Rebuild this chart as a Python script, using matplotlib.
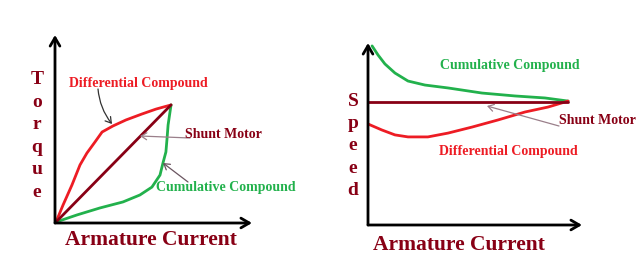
import matplotlib
matplotlib.use("Agg")
import matplotlib.pyplot as plt

# ---------------- data ----------------
# Left panel: torque vs armature current (arbitrary units)
tq_diff_x = [0.05, 0.41, 0.86, 1.27, 1.62, 2.03, 2.39, 2.94, 3.60, 4.42, 5.13, 5.89]
tq_diff_y = [0.05, 0.96, 2.02, 3.09, 3.72, 4.31, 4.84, 5.16, 5.48, 5.80, 6.06, 6.28]
tq_shunt_x = [0.05, 5.89]
tq_shunt_y = [0.05, 6.28]
tq_cum_x = [0.05, 1.12, 2.28, 3.45, 4.31, 4.92, 5.33, 5.48, 5.63, 5.69, 5.74, 5.89]
tq_cum_y = [0.05, 0.43, 0.80, 1.12, 1.49, 1.91, 2.55, 3.19, 3.78, 4.52, 5.21, 6.28]

# Right panel: speed vs armature current
sp_cum_x = [0.19, 0.47, 0.79, 1.26, 1.87, 2.66, 3.74, 5.33, 6.87, 8.27, 9.35]
sp_cum_y = [9.84, 9.34, 8.85, 8.35, 7.91, 7.69, 7.53, 7.25, 7.09, 6.98, 6.81]
sp_shunt_x = [0.0, 9.35]
sp_shunt_y = [6.74, 6.74]
sp_diff_x = [0.0, 0.65, 1.26, 1.87, 2.80, 3.74, 4.86, 6.07, 7.34, 8.41, 9.35]
sp_diff_y = [5.55, 5.22, 4.95, 4.84, 4.84, 5.05, 5.38, 5.77, 6.21, 6.48, 6.81]

xlabel = "Armature Current"
left_ylabel = "Torque"
right_ylabel = "Speed"
lbl_diff = "Differential Compound"
lbl_cum = "Cumulative Compound"
lbl_shunt = "Shunt Motor"

# ---------------- style ----------------
RED = "#ED1C24"
GREEN = "#22B14C"
MAROON = "#880015"
PTR = "#9a7f8a"
W, H = 640, 268
FONT = "Liberation Serif"

fig = plt.figure(figsize=(6.4, 2.68), dpi=100)
fig.patch.set_facecolor("white")


def fp(x, y):
    return (x / W, 1 - y / H)


def make_axes(x0, y0, x1, y1):
    ax = fig.add_axes([x0 / W, 1 - y0 / H, (x1 - x0) / W, (y0 - y1) / H])
    ax.set_xlim(0, 10)
    ax.set_ylim(0, 10)
    ax.axis("off")
    arrow = dict(arrowstyle="->,head_length=0.6,head_width=0.35", color="black",
                 lw=2.0, shrinkA=0, shrinkB=0)
    ax.annotate("", xy=(0, 1), xytext=(0, 0), xycoords="axes fraction",
                arrowprops=arrow, annotation_clip=False)
    ax.annotate("", xy=(1, 0), xytext=(0, 0), xycoords="axes fraction",
                arrowprops=arrow, annotation_clip=False)
    return ax


def pointer(start, end, color, rad=0.0):
    fig.add_artist(matplotlib.patches.FancyArrowPatch(
        fp(*start), fp(*end), transform=fig.transFigure,
        arrowstyle="->,head_length=4,head_width=2.5", color=color, lw=0.9,
        connectionstyle=f"arc3,rad={rad}", shrinkA=0, shrinkB=0))


def vtext(x, y, s):
    fig.text(*fp(x, y), "\n".join(s), ha="center", va="center",
             fontsize=14, fontweight="bold", color=MAROON, family=FONT,
             linespacing=1.42)


LW = 2.0
kw = dict(lw=LW, solid_capstyle="round", solid_joinstyle="round")

# ---------- left panel ----------
axL = make_axes(55, 223, 252, 35)
axL.plot(tq_diff_x, tq_diff_y, color=RED, **kw)
axL.plot(tq_cum_x, tq_cum_y, color=GREEN, **kw)
axL.plot(tq_shunt_x, tq_shunt_y, color=MAROON, **kw)

fig.text(*fp(138, 83), lbl_diff, ha="center", va="center", fontsize=10,
         fontweight="bold", color=RED, family=FONT)
fig.text(*fp(185, 135), lbl_shunt, ha="left", va="center", fontsize=10,
         fontweight="bold", color=MAROON, family=FONT)
fig.text(*fp(226, 188), lbl_cum, ha="center", va="center", fontsize=10,
         fontweight="bold", color=GREEN, family=FONT)
fig.text(*fp(151, 240), xlabel, ha="center", va="center", fontsize=15.5,
         fontweight="bold", color=MAROON, family=FONT)
vtext(37, 136, left_ylabel)

pointer((98, 89), (112, 124), "#333333", rad=0.15)
pointer((190, 138), (140, 136), PTR)
pointer((188, 182), (163, 163), "#6a5560")

# ---------- right panel ----------
axR = make_axes(368, 225, 582, 43)
axR.plot(sp_cum_x, sp_cum_y, color=GREEN, **kw)
axR.plot(sp_diff_x, sp_diff_y, color=RED, **kw)
axR.plot(sp_shunt_x, sp_shunt_y, color=MAROON, **kw)

fig.text(*fp(510, 66), lbl_cum, ha="center", va="center", fontsize=10,
         fontweight="bold", color=GREEN, family=FONT)
fig.text(*fp(559, 121), lbl_shunt, ha="left", va="center", fontsize=10,
         fontweight="bold", color=MAROON, family=FONT)
fig.text(*fp(508, 151), lbl_diff, ha="center", va="center", fontsize=10,
         fontweight="bold", color=RED, family=FONT)
fig.text(*fp(459, 245), xlabel, ha="center", va="center", fontsize=15.5,
         fontweight="bold", color=MAROON, family=FONT)
vtext(353, 146, right_ylabel)

pointer((559, 126), (487, 106), PTR)

fig.savefig("out.png", dpi=100, facecolor="white")
